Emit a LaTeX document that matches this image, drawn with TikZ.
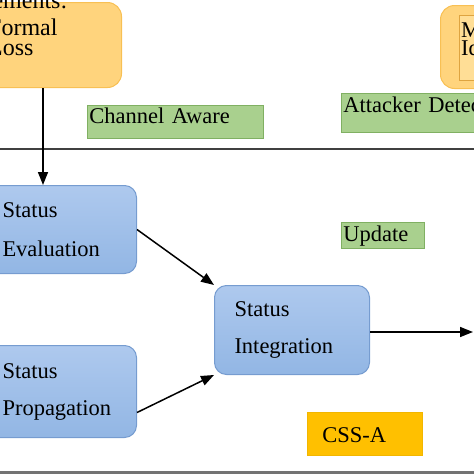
\documentclass[tikz,border=0pt]{standalone}
\usepackage{fontspec}
\setmainfont{Liberation Serif}
\usetikzlibrary{arrows.meta,positioning}

\definecolor{bluetop}{RGB}{174,201,238}
\definecolor{bluebot}{RGB}{146,182,228}
\definecolor{blueline}{RGB}{118,156,208}
\definecolor{grnfill}{RGB}{169,208,142}
\definecolor{grnline}{RGB}{128,176,98}
\definecolor{orgfill}{RGB}{255,212,125}
\definecolor{orgline}{RGB}{248,192,84}
\definecolor{idfill}{RGB}{255,222,150}
\definecolor{idline}{RGB}{222,164,64}
\definecolor{cssfill}{RGB}{255,192,0}

\tikzset{
  statebox/.style={draw=blueline, line width=1pt, rounded corners=12pt,
    top color=bluetop, bottom color=bluebot, align=left, inner xsep=20pt},
  tagbox/.style={draw=grnline, fill=grnfill, line width=0.8pt,
    inner xsep=2pt, inner ysep=0pt, align=left},
  notebox/.style={draw=orgline, fill=orgfill, line width=1pt, rounded corners=14pt},
  flow/.style={->, line width=1.5pt},
}

\begin{document}
\begin{tikzpicture}[x=1pt, y=-1pt, >={Triangle[length=13pt,width=10pt]},
    font=\fontsize{22.5}{37}\selectfont]
  \useasboundingbox (0,0) rectangle (474,474);
  \clip (0,0) rectangle (474,474);

  % upper band
  \node[notebox, anchor=south east, minimum width=200pt, minimum height=85pt] (req) at (122,88) {};
  \node[anchor=north west, inner sep=0pt, align=left, font=\fontsize{24}{20}\selectfont] (reqtxt) at (-12,-8)
    {\hspace*{-61pt}Requirements:\\[5pt]Formal\\Loss};
  \node[notebox, anchor=north west, minimum width=100pt, minimum height=83pt] (rid) at (440,5) {};
  \node[draw=idline, fill=idfill, line width=0.6pt, anchor=north west, minimum width=60pt, minimum height=65pt] (idt) at (459,15) {};
  \node[anchor=north west, inner sep=0pt, align=left, font=\fontsize{22.5}{18}\selectfont] (idtxt) at (461,22)
    {Malicious\\Identity};

  \node[tagbox, anchor=north west, text width=172pt, text height=18pt, text depth=15pt] (chan) at (87,105) {Channel Aware};
  \node[tagbox, anchor=north west, text width=230pt, text height=19pt, text depth=20pt] (att) at (341,93) {Attacker Detection};

  \draw[line width=2pt, black!75] (0,149) -- (474,149);

  % lower band
  \node[statebox, anchor=north east, text width=114pt, minimum height=88pt,
    font=\fontsize{22.5}{39}\selectfont] (eval) at (137,185) {Status\\Evaluation};
  \node[statebox, anchor=north east, text width=114pt, minimum height=92pt] (prop) at (137,345) {Status\\Propagation};
  \node[statebox, anchor=north west, text width=115pt, minimum height=89pt] (integ) at (214,285) {Status\\Integration};

  \node[tagbox, anchor=north west, text width=79pt, text height=19pt, text depth=7pt] (upd) at (341,222) {Update};
  \node[draw=cssfill!95!black, fill=cssfill, line width=0.5pt, anchor=north west, inner xsep=15pt, inner ysep=0pt,
    text width=85pt, text height=30pt, text depth=13pt] (css) at (307,412) {CSS-A};

  \coordinate (lnk) at (43,0);
  \coordinate (outp) at (473,332);
  \draw[flow] (req.south -| lnk) -- (eval.north -| lnk);
  \draw[flow] (eval.east) -- (integ.north west);
  \draw[flow] ([yshift=-21pt]prop.east) -- (integ.south west);
  \draw[flow] (integ.east |- outp) -- (outp);

  \draw[line width=3pt, black!55] (0,472.5) -- (474,472.5);
\end{tikzpicture}
\end{document}
